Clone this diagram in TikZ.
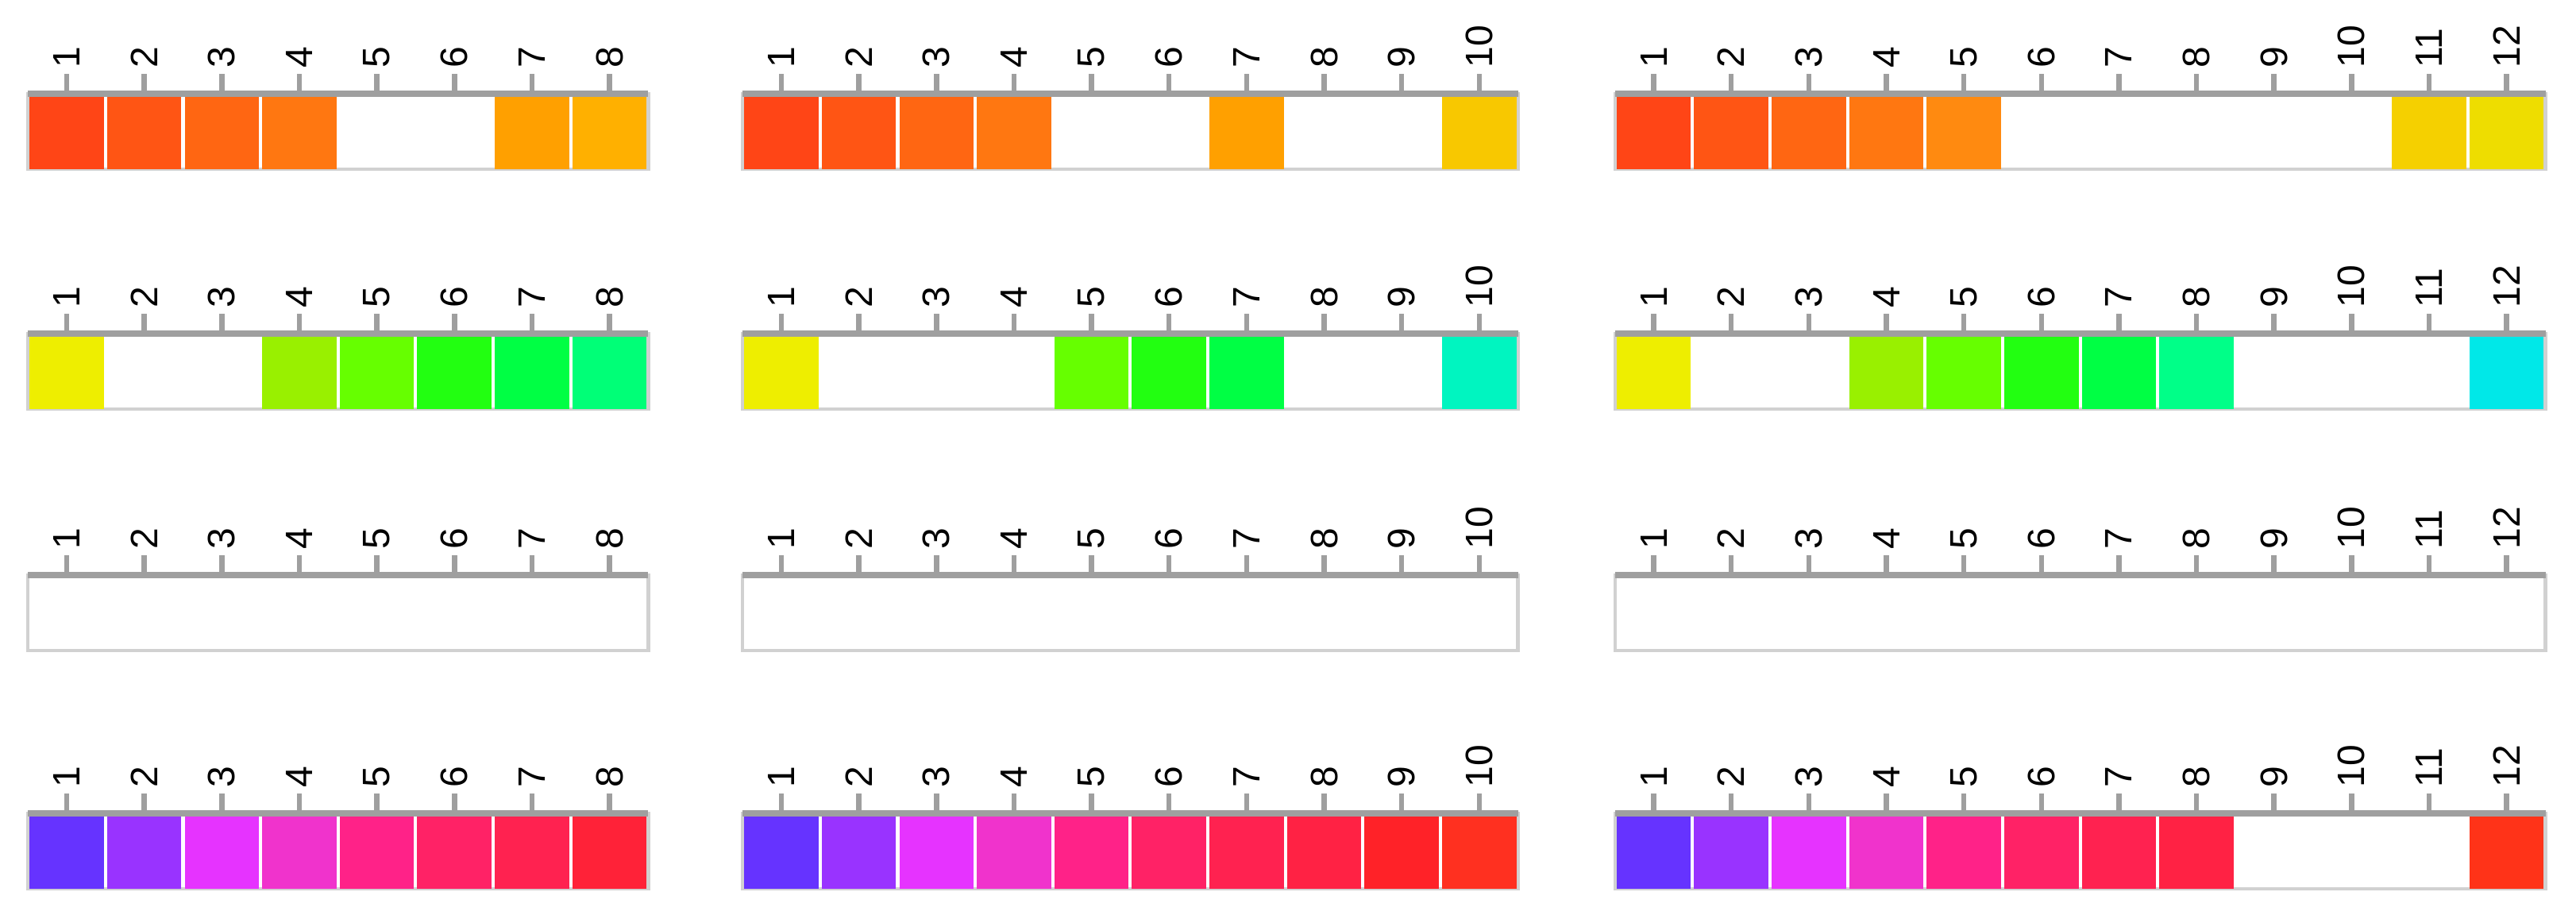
\documentclass[tikz,border=0pt]{standalone}
\usepackage{fontspec}
\setmainfont{Liberation Sans}
\def\emptcell{-}
\newcommand\cbar[4]{%
  \pgfmathsetmacro\barw{#3*47.2}
  \draw[black!18,line width=0.6pt] (#1,#2) rectangle ++(\barw,46);
  \foreach \c [count=\i] in {#4}{%
    \pgfmathsetmacro\xa{#1+(\i-1)*47.2}
    \ifx\c\emptcell\else
      \definecolor{tmpc}{HTML}{\c}%
      \fill[tmpc] (\xa+1,#2) rectangle ++(45.2,46);
    \fi
    \draw[gray!75,line width=0.9pt] (\xa+23.6,#2) -- ++(0,-12);
    \node[rotate=90,anchor=west,inner sep=0pt,font=\fontsize{6.6}{7}\selectfont] at (\xa+23.6,#2-15) {\i};
  }
  \draw[gray!75,line width=1pt] (#1,#2) -- ++(\barw,0);
}
\begin{document}
\begin{tikzpicture}[x=0.01cm,y=-0.01cm]
\useasboundingbox (0,0) rectangle (1568,559);
% row 1
\cbar{17}{57}{8}{FF4516,FF5514,FF6612,FF7711,-,-,FFA000,FFB000}
\cbar{452}{57}{10}{FF4516,FF5514,FF6612,FF7711,-,-,FFA000,-,-,F8C800}
\cbar{983}{57}{12}{FF4516,FF5514,FF6612,FF7711,FF8A10,-,-,-,-,-,F5D000,EEDD00}
% row 2
\cbar{17}{203}{8}{EEEE00,-,-,99F000,66FF00,22FF11,00FF44,00FF77}
\cbar{452}{203}{10}{EEEE00,-,-,-,66FF00,22FF11,00FF44,-,-,00F5C0}
\cbar{983}{203}{12}{EEEE00,-,-,99F000,66FF00,22FF11,00FF44,00FF88,-,-,-,00E8E8}
% row 3
\cbar{17}{350}{8}{-,-,-,-,-,-,-,-}
\cbar{452}{350}{10}{-,-,-,-,-,-,-,-,-,-}
\cbar{983}{350}{12}{-,-,-,-,-,-,-,-,-,-,-,-}
% row 4
\cbar{17}{495}{8}{6633FF,9933FF,E633FF,F033CC,FF2288,FF2266,FF2250,FF2238}
\cbar{452}{495}{10}{6633FF,9933FF,E633FF,F033CC,FF2288,FF2266,FF2250,FF2244,FF2228,FF3020}
\cbar{983}{495}{12}{6633FF,9933FF,E633FF,F033CC,FF2288,FF2266,FF2250,FF2244,-,-,-,FF3318}
\end{tikzpicture}
\end{document}
